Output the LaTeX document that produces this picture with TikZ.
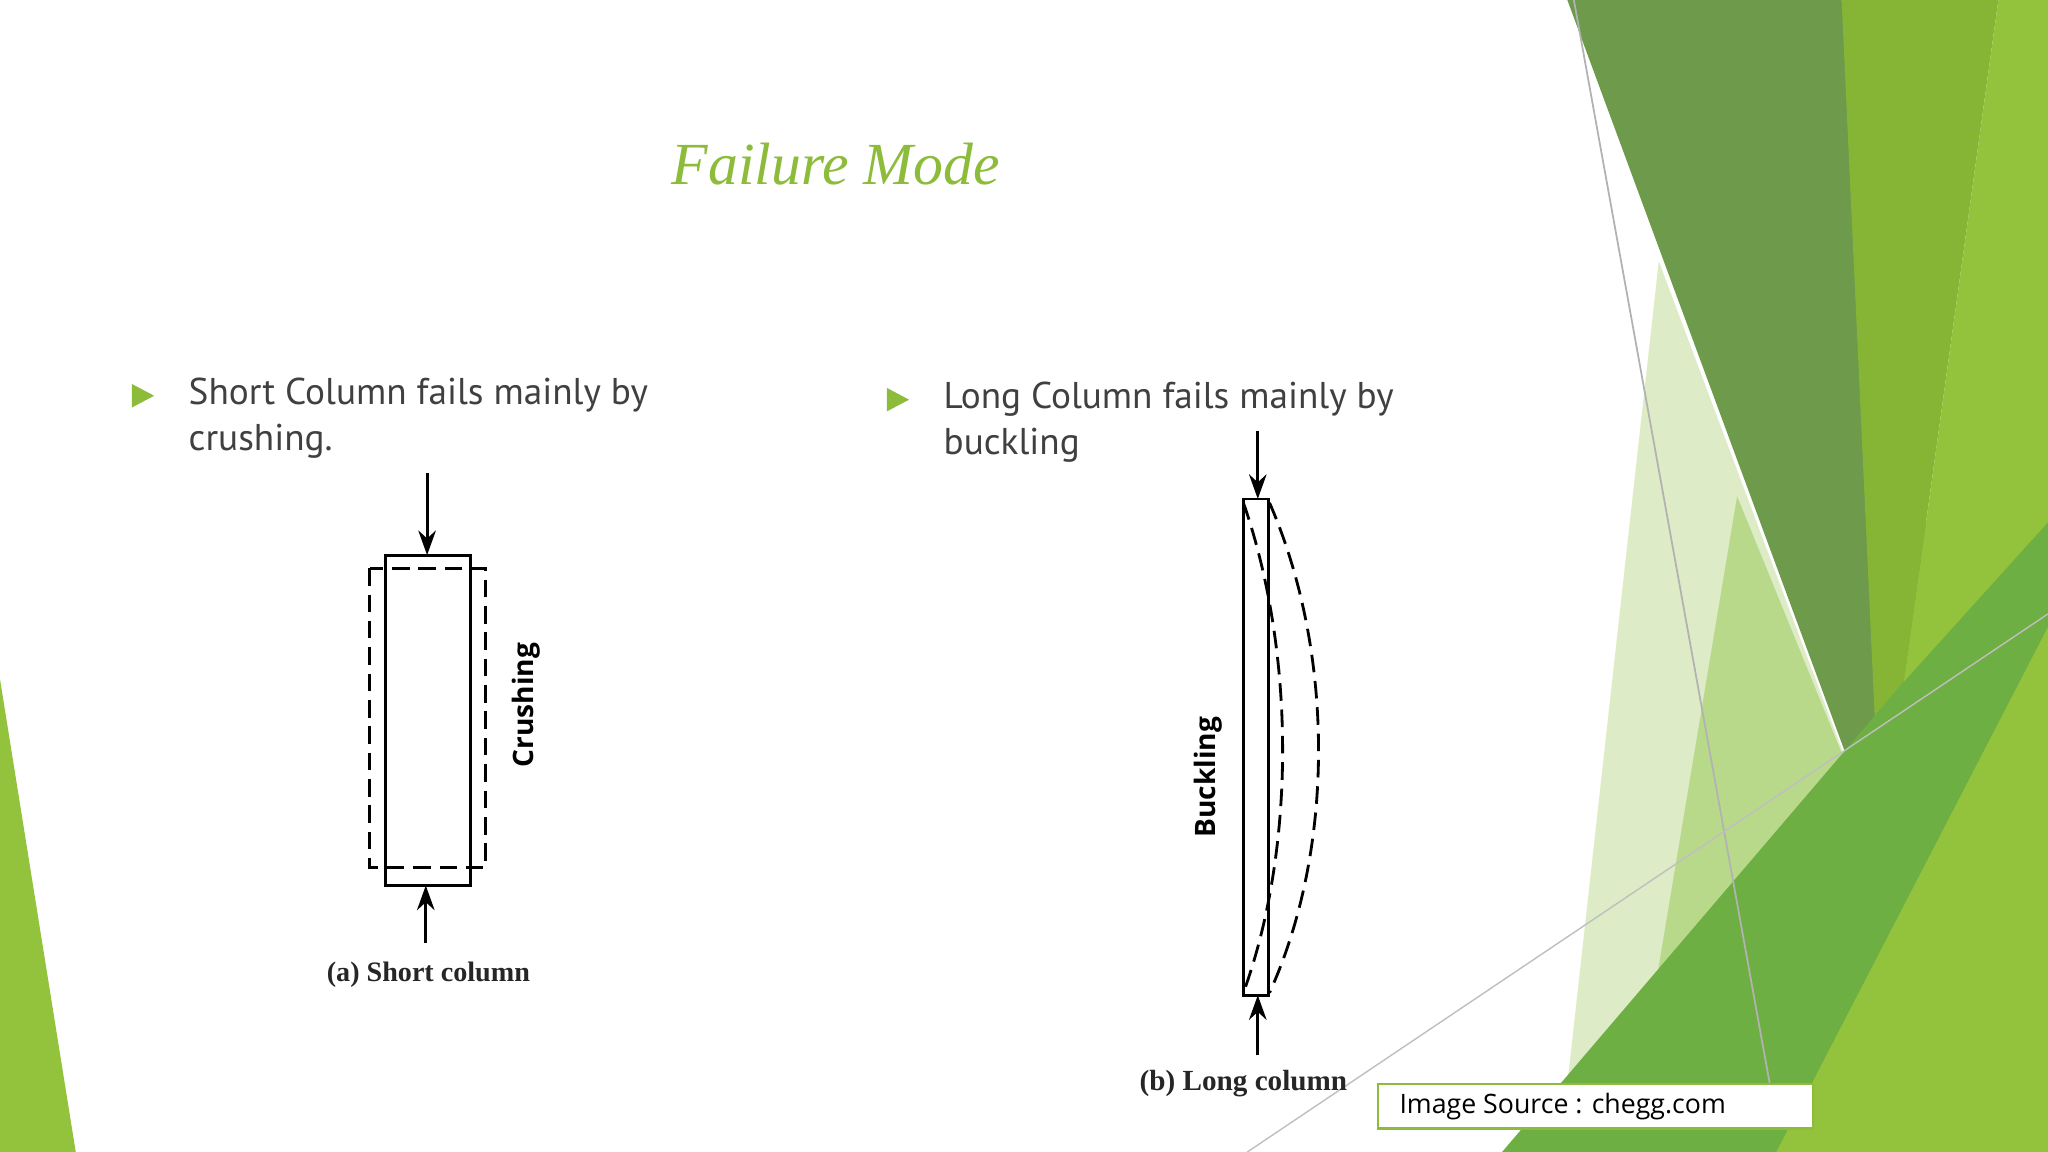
\documentclass[tikz,border=0pt]{standalone}
\usepackage{fontspec}
\setmainfont{Liberation Serif}
\setsansfont{Open Sans}
\newfontfamily\bodyf{PT Sans}
\usetikzlibrary{arrows.meta}
\definecolor{g1}{HTML}{6E9A4C}
\definecolor{g2}{HTML}{86B535}
\definecolor{g3}{HTML}{93C23D}
\definecolor{g4}{HTML}{DDEBC6}
\definecolor{g5}{HTML}{6DAF42}
\definecolor{g6}{HTML}{B9D98A}
\definecolor{tg}{HTML}{8DBB3A}
\definecolor{txt}{HTML}{404040}
\begin{document}
\begin{tikzpicture}[x=0.013061cm,y=-0.013061cm,
 col/.style={draw=black,line width=0.8pt},
 dsh/.style={draw=black,line width=0.8pt,dash pattern=on 5pt off 2.5pt},
 arr/.style={-{Stealth[length=7pt,width=5pt]},line width=0.8pt},
 bul/.style={anchor=west,font=\bodyf\fontsize{10.6}{13}\selectfont,text=txt,align=left}]
\useasboundingbox (0,0) rectangle (1568,882);
\fill[white] (0,0) rectangle (1568,882);
% background shapes
\fill[g4] (1270,200) -- (1420,600) -- (1200,830) -- cycle;
\fill[g6] (1330,380) -- (1440,650) -- (1260,800) -- cycle;
\fill[g1] (1200,0) -- (1410,0) -- (1475,400) -- (1440,650) -- cycle;
\fill[g2] (1410,0) -- (1530,0) -- (1440,650) -- cycle;
\fill[g3] (1530,0) -- (1568,0) -- (1568,882) -- (1400,882) -- (1440,650) -- cycle;
\fill[g5] (1150,882) -- (1455,525) -- (1568,400) -- (1568,882) -- cycle;
\fill[g3] (1568,480) -- (1568,882) -- (1360,882) -- cycle;
\fill[g3] (0,520) -- (0,882) -- (58,882) -- cycle;
\draw[gray!60,line width=0.5pt] (1205,0) -- (1355,830);
\draw[gray!50,line width=0.4pt] (955,882) -- (1568,470);
% title
\node[text=tg,font=\itshape\fontsize{17}{20}\selectfont] (title) at (640,126) {Failure Mode};
% bullets
\fill[tg] (101,294) -- (118,303) -- (101,312) -- cycle;
\fill[tg] (679,297) -- (696,306) -- (679,315) -- cycle;
\node[bul] (b1) at (135,320) {Short Column fails mainly by\\crushing.};
\node[bul] (b2) at (713,323) {Long Column fails mainly by\\buckling};
% short column
\draw[col] (295,425) rectangle (360,678);
\draw[dsh] (283,435) rectangle (372,664);
\coordinate (st) at (327,362);
\coordinate (sb) at (326,722);
\draw[arr] (st) -- (327,425);
\draw[arr] (sb) -- (326,678);
\node[rotate=90,font=\sffamily\bfseries\fontsize{8}{10}\selectfont] (cr) at (403,540) {Crushing};
\node[font=\bfseries\fontsize{8}{9}\selectfont,text=black!85] (la) at (328,746) {(a) Short column};
% long column
\draw[col] (952,382) rectangle (971,762);
\draw[dsh] (952,385) .. controls (992,500) and (992,650) .. (952,760);
\draw[dsh] (972,385) .. controls (1022,500) and (1022,650) .. (972,760);
\coordinate (lt) at (963,330);
\coordinate (lb) at (963,808);
\draw[arr] (lt) -- (963,382);
\draw[arr] (lb) -- (963,762);
\node[rotate=90,font=\sffamily\bfseries\fontsize{8}{10}\selectfont] (bk) at (925,595) {Buckling};
\node[font=\bfseries\fontsize{8.3}{9}\selectfont,text=black!85] (lbl) at (952,830) {(b) Long column};
% source box
\draw[tg,fill=white,line width=0.8pt] (1055,830) rectangle (1388,864);
\node[anchor=west,font=\sffamily\fontsize{7.6}{10}\selectfont] (src) at (1062,847) {Image Source : chegg.com};
\end{tikzpicture}
\end{document}
